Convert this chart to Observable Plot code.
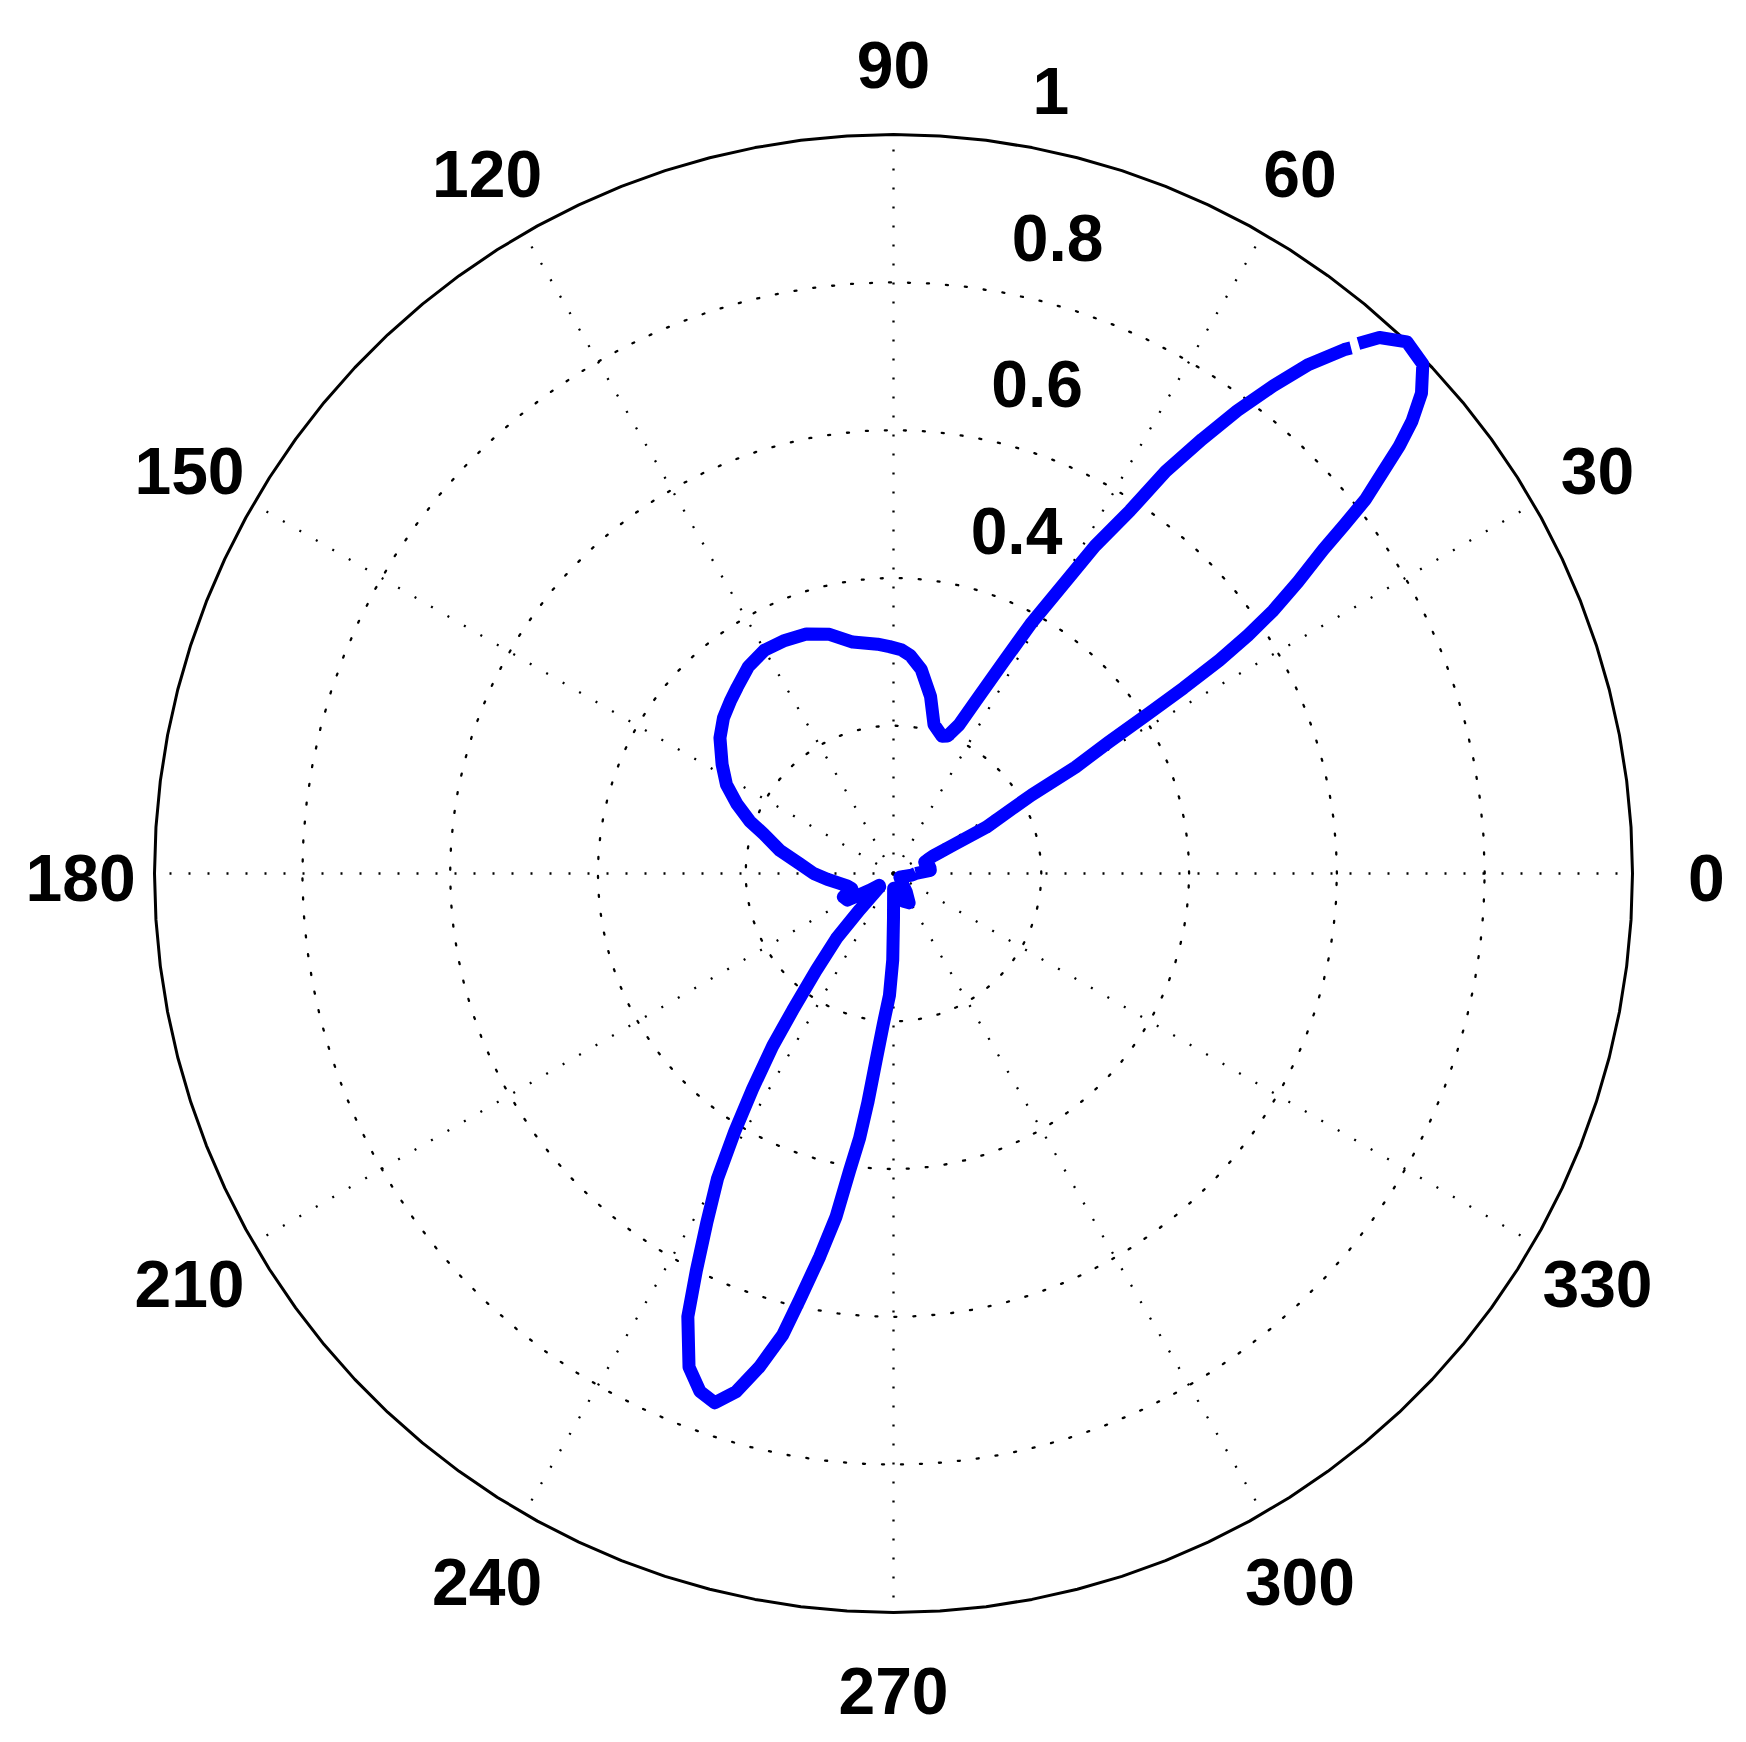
<!DOCTYPE html>
<html>
<head>
<meta charset="utf-8">
<script src="https://cdn.jsdelivr.net/npm/d3@7"></script>
<script src="https://cdn.jsdelivr.net/npm/@observablehq/plot@0.6"></script>
<style>
  html, body { margin: 0; padding: 0; background: #ffffff; }
  #chart svg { display: block; }
</style>
</head>
<body>
<div id="chart"></div>
<script>
// Angles (degrees) of the measured pattern
const theta = [
  0, 5, 10, 15, 20, 22, 24, 25.5, 26.5, 28.5, 29.6, 30.3, 31.4, 32.1, 32.6, 33.2, 33.9, 34.7, 35.8,
  37.0, 37.7, 38.4, 39.4, 40.2, 41.1, 42.3, 43.9, 46.0, 47.8, 48.74, 48.85, 48.96, 49.3, 50.8, 52.1, 53.4, 54.6, 55.9,
  56.9, 58.4, 59.6, 61.2, 62.6, 64.4, 66.2, 68.5, 70.5, 74.8, 78.2, 82.3, 85.6, 88, 91, 94, 100,
  105, 110, 115, 120, 125, 130, 133.5, 137.5, 142, 147.5, 152, 156, 160, 163, 168.5, 174, 180,
  185, 190, 195, 200, 205, 210, 215, 220, 224, 227, 228.7, 231.4, 233.6, 235.0, 236.8, 238.4, 240.0,
  241.9, 243.6, 245.1, 247.5, 249.5, 251.35, 253.1, 254.8, 256.5, 257.6, 259.1, 260.5, 261.6, 262.7, 263.6,
  264.7, 266.1, 268.1, 269.5, 270, 270.5, 280, 290, 298, 305, 315, 330, 345, 355, 360
];
// Normalised magnitude at each angle (NaN = break in the trace)
const rho = [
  0.03, 0.05, 0.05, 0.045, 0.045, 0.05, 0.06, 0.09, 0.14, 0.18, 0.215, 0.285, 0.341, 0.407, 0.466, 0.527, 0.578, 0.625, 0.675,
  0.728, 0.771, 0.815, 0.858, 0.896, 0.931, 0.966, 0.994, 1.0, 0.979, 0.954, NaN, 0.943, 0.935, 0.889, 0.836, 0.780, 0.721, 0.657,
  0.586, 0.520, 0.452, 0.385, 0.320, 0.261, 0.220, 0.200, 0.197, 0.209, 0.245, 0.279, 0.296, 0.303, 0.307, 0.311, 0.318,
  0.335, 0.345, 0.348, 0.349, 0.342, 0.329, 0.321, 0.312, 0.298, 0.275, 0.256, 0.232, 0.207, 0.184, 0.157, 0.128, 0.108,
  0.09, 0.075, 0.065, 0.06, 0.075, 0.072, 0.04, 0.025, 0.026, 0.067, 0.117, 0.168, 0.230, 0.285, 0.348, 0.410, 0.476,
  0.537, 0.600, 0.661, 0.723, 0.748, 0.756, 0.733, 0.692, 0.642, 0.590, 0.528, 0.471, 0.406, 0.361, 0.312,
  0.253, 0.205, 0.165, 0.117, 0.06, 0.02, 0.02, 0.04, 0.045, 0.03, 0.015, 0.01, 0.015, 0.025, 0.03
];
// Angle tick labels and radial tick labels
const angleTicks = [0, 30, 60, 90, 120, 150, 180, 210, 240, 270, 300, 330];
const gridRings = [0.2, 0.4, 0.6, 0.8];
const rLabels = [0.4, 0.6, 0.8, 1];
const rMax = 1;

const rad = Math.PI / 180;
const curve = theta.map((t, i) => ({theta: t, rho: rho[i]}));

// circle outline as used by the polar frame (100 segments)
const steps = d3.range(0, 101).map(k => k * 3.6);
const ringPts = gridRings.flatMap(r => steps.map(a => ({ring: r, a, r})));
const outerPts = steps.map(a => ({a, r: rMax}));

const font = "'Liberation Sans', Arial, Helvetica, sans-serif";
const c82 = Math.cos(82 * rad), s82 = Math.sin(82 * rad);

const chart = Plot.plot({
  width: 1746,
  height: 1742,
  marginLeft: 154,
  marginRight: 114,
  marginTop: 134,
  marginBottom: 130,
  x: {domain: [-1, 1], axis: null},
  y: {domain: [-1, 1], axis: null},
  style: {fontFamily: font, background: "#ffffff", overflow: "visible"},
  marks: [
    Plot.line(ringPts, {
      x: d => d.r * Math.cos(d.a * rad), y: d => d.r * Math.sin(d.a * rad), z: "ring",
      stroke: "#000", strokeWidth: 2.3, strokeDasharray: "2 17"
    }),
    Plot.link(angleTicks, {
      x1: () => 0, y1: () => 0,
      x2: d => rMax * Math.cos(d * rad), y2: d => rMax * Math.sin(d * rad),
      stroke: "#000", strokeWidth: 2.3, strokeDasharray: "2 17"
    }),
    Plot.line(outerPts, {
      x: d => d.r * Math.cos(d.a * rad), y: d => d.r * Math.sin(d.a * rad),
      stroke: "#000", strokeWidth: 3
    }),
    Plot.line(curve, {
      x: d => d.rho * Math.cos(d.theta * rad), y: d => d.rho * Math.sin(d.theta * rad),
      stroke: "#0000ff", strokeWidth: 13, strokeLinejoin: "round", strokeLinecap: "butt"
    }),
    Plot.text(angleTicks, {
      x: d => 1.1 * rMax * Math.cos(d * rad), y: d => 1.1 * rMax * Math.sin(d * rad),
      text: d => String(d), fontSize: 66, fontWeight: "bold", fill: "#000",
      textAnchor: "middle", lineAnchor: "middle", dy: 6
    }),
    Plot.text(rLabels, {
      x: d => (d + 0.01) * c82, y: d => (d + 0.01) * s82,
      text: d => String(d), fontSize: 66, fontWeight: "bold", fill: "#000",
      textAnchor: "start", lineAnchor: "middle", dx: 35, dy: -41
    })
  ]
});
document.getElementById("chart").appendChild(chart);
</script>
</body>
</html>
